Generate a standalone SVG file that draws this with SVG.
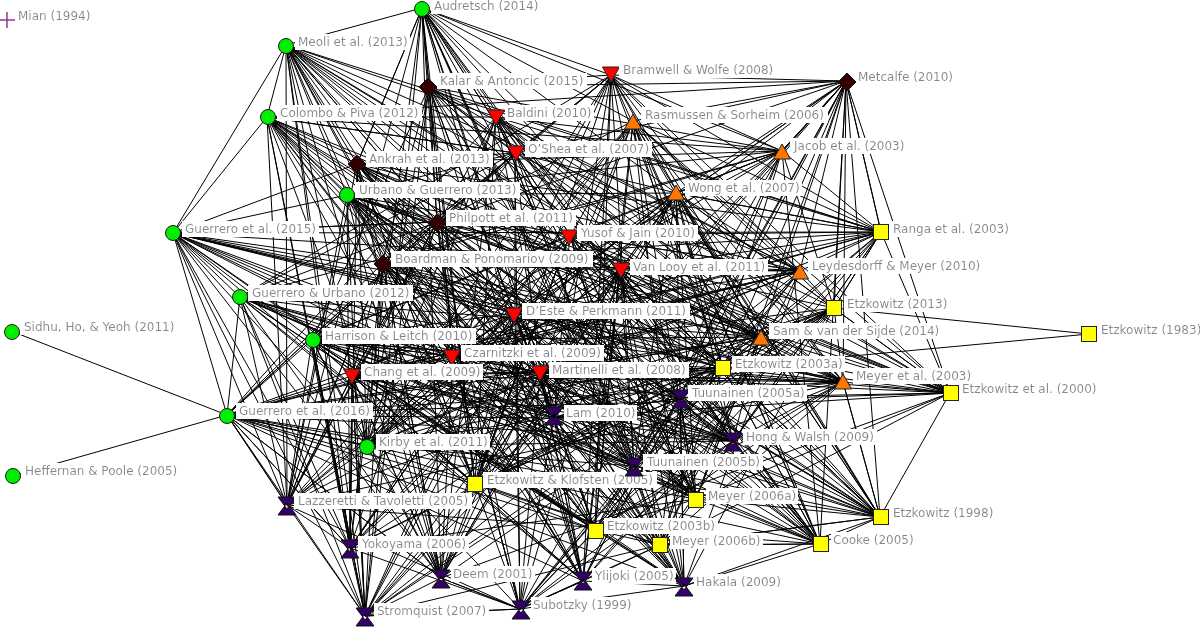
<svg xmlns="http://www.w3.org/2000/svg" width="1200" height="628" viewBox="0 0 1200 628">
<style>
.e{fill:none;stroke:#000;stroke-width:1;stroke-linejoin:round}
.l{font-family:"DejaVu Sans","Liberation Sans",sans-serif;font-size:12px;fill:#868686;filter:url(#lb)}
</style>
<defs>
<filter id="lb" x="-0.02" y="-0.04" width="1.04" height="1.08"><feFlood flood-color="#fff" result="bg"/><feMerge><feMergeNode in="bg"/><feMergeNode in="SourceGraphic"/></feMerge></filter>
<circle id="sc" r="7.5" fill="#00ee00" stroke="#1a1a1a" stroke-width="1"/>
<path id="sd" d="M0 -9L9 0 0 9 -9 0Z" fill="#330000" stroke="#111" stroke-width="1"/>
<path id="sr" d="M-8.5 -7H8.5L0 8Z" fill="#ff0000" stroke="#222" stroke-width="1"/>
<path id="so" d="M0 -8L8.5 7H-8.5Z" fill="#ff7700" stroke="#222" stroke-width="1"/>
<rect id="sy" x="-7.5" y="-7.5" width="15" height="15" fill="#ffff00" stroke="#222" stroke-width="1"/>
<path id="sp" d="M-9 -9H9L0 3Z M-9 9H9L0 -3Z" fill="#330066" stroke="#111" stroke-width="1"/>
</defs>
<rect width="1200" height="628" fill="#fff"/>
<g id="connectors">
<path class="e" d="M422 8 880 517 357 164 684 586 173 233 800 271 515 313 365 616 846 81 475 484 267 117 760 337 496 117 733 441 227 415 881 232 352 376 583 581 429 87 782 151 312 340 820 544 570 235 287 505 286 45 843 382 383 263 595 530 611 75 554 418 240 297 950 393 540 373 441 578 633 121 367 446 834 308 437 222 680 398 515 153 347 195 696 499 676 193 350 548 620 270 723 368 520 609 453 356 660 545 634 466 422 8"/>
<path class="e" d="M422 8 684 586 515 313 475 484 496 117 881 232 429 87 820 544 286 45 595 530 240 297 441 578 834 308 515 153 676 193 723 368 660 545 880 517 173 233 365 616 267 117 733 441 352 376 782 151 570 235 843 382 611 75 950 393 633 121 437 222 347 195 350 548 520 609 634 466 357 164 800 271 846 81 760 337 227 415 583 581 312 340 287 505 383 263 554 418 540 373 367 446 680 398 696 499 620 270 453 356 422 8"/>
<path class="e" d="M422 8 365 616 227 415 820 544 611 75 367 446 676 193 634 466 515 313 733 441 312 340 595 530 633 121 696 499 660 545 800 271 496 117 782 151 383 263 441 578 347 195 453 356 173 233 760 337 429 87 843 382 540 373 515 153 520 609 684 586 267 117 583 581 286 45 950 393 680 398 723 368 357 164 475 484 352 376 287 505 240 297 437 222 620 270 880 517 846 81 881 232 570 235 554 418 834 308 350 548 422 8"/>
<path class="e" d="M422 8 475 484 429 87 595 530 834 308 723 368 173 233 733 441 570 235 950 393 347 195 634 466 846 81 583 581 383 263 367 446 620 270 684 586 496 117 820 544 240 297 515 153 660 545 365 616 352 376 843 382 633 121 350 548 357 164 760 337 312 340 554 418 680 398 453 356 515 313 881 232 286 45 441 578 676 193 880 517 267 117 782 151 611 75 437 222 520 609 800 271 227 415 287 505 540 373 696 499 422 8"/>
<path class="e" d="M422 8 760 337 570 235 441 578 620 270 800 271 352 376 595 530 680 398 634 466 267 117 820 544 540 373 350 548 173 233 881 232 383 263 437 222 660 545 475 484 312 340 950 393 676 193 684 586 227 415 843 382 834 308 453 356 846 81 782 151 240 297 696 499 357 164 733 441 286 45 367 446 520 609 365 616 429 87 554 418 347 195 880 517 496 117 287 505 633 121 723 368 515 313 583 581 611 75 515 153 422 8"/>
<path class="e" d="M422 8 733 441 383 263 515 153 357 164 881 232 611 75 696 499 173 233 583 581 240 297 350 548 515 313 782 151 540 373 723 368 846 81 820 544 633 121 453 356 267 117 287 505 834 308 634 466 496 117 843 382 680 398 880 517 227 415 595 530 347 195 684 586 352 376 554 418 676 193 800 271 429 87 950 393 620 270 365 616 312 340 441 578 520 609 475 484 570 235 367 446 660 545 760 337 286 45 437 222 422 8"/>
<path class="e" d="M422 8 583 581 633 121 880 517 429 87 367 446 357 164 782 151 834 308 684 586 312 340 437 222 173 233 820 544 680 398 800 271 570 235 515 153 515 313 287 505 347 195 365 616 286 45 696 499 846 81 843 382 676 193 475 484 383 263 350 548 267 117 595 530 620 270 760 337 611 75 723 368 496 117 554 418 520 609 733 441 240 297 453 356 227 415 950 393 660 545 881 232 540 373 634 466 352 376 441 578 422 8"/>
<path class="e" d="M422 8 782 151 680 398 365 616 383 263 723 368 227 415 441 578 357 164 820 544 347 195 475 484 611 75 453 356 352 376 367 446 173 233 287 505 676 193 760 337 240 297 634 466 429 87 437 222 515 313 843 382 620 270 733 441 540 373 880 517 312 340 515 153 846 81 595 530 520 609 881 232 633 121 684 586 570 235 696 499 267 117 554 418 660 545 583 581 834 308 800 271 286 45 350 548 496 117 950 393 422 8"/>
<path class="e" d="M422 8 820 544 676 193 733 441 633 121 800 271 383 263 453 356 429 87 515 153 267 117 950 393 357 164 287 505 620 270 881 232 834 308 365 616 611 75 634 466 312 340 696 499 496 117 441 578 173 233 843 382 520 609 583 581 680 398 475 484 240 297 880 517 570 235 350 548 227 415 367 446 515 313 595 530 660 545 782 151 347 195 760 337 540 373 684 586 286 45 723 368 352 376 437 222 846 81 554 418 422 8"/>
<path class="e" d="M422 8 287 505 520 609 782 151 676 193 881 232 680 398 760 337 633 121 365 616 240 297 684 586 383 263 634 466 570 235 723 368 429 87 696 499 227 415 437 222 267 117 441 578 515 313 554 418 357 164 843 382 660 545 820 544 620 270 583 581 347 195 733 441 834 308 475 484 540 373 800 271 611 75 880 517 286 45 453 356 312 340 350 548 352 376 515 153 496 117 367 446 846 81 950 393 173 233 595 530 422 8"/>
<path class="e" d="M422 8 357 164 173 233 515 313 846 81 267 117 496 117 227 415 352 376 429 87 312 340 570 235 286 45 383 263 611 75 240 297 540 373 633 121 834 308 680 398 347 195 676 193 620 270 520 609 660 545 422 8"/>
<path class="e" d="M880 517 684 586 800 271 365 616 475 484 760 337 733 441 881 232 583 581 782 151 820 544 287 505 843 382 595 530 554 418 950 393 441 578 367 446 437 222 515 153 696 499 350 548 723 368 453 356 634 466 880 517"/>
<path class="e" d="M515 313 312 340 367 446 723 368 357 164 475 484 570 235 437 222 453 356 676 193 760 337 383 263 680 398 634 466 843 382 733 441 554 418 696 499 595 530 800 271 352 376 540 373 620 270 347 195 515 313"/>
<path class="e" d="M515 313 383 263 620 270 676 193 352 376 437 222 595 530 475 484 554 418 723 368 843 382 312 340 680 398 347 195 760 337 540 373 453 356 800 271 570 235 696 499 357 164 733 441 367 446 634 466 515 313"/>
<path class="e" d="M515 313 437 222 843 382 540 373 357 164 383 263 595 530 312 340 453 356 733 441 620 270 475 484 680 398 800 271 367 446 676 193 554 418 347 195 570 235 634 466 352 376 723 368 760 337 696 499 515 313"/>
<path class="e" d="M365 616 312 340 350 548 352 376 441 578 453 356 520 609 540 373 583 581 554 418 684 586 680 398 660 545 515 313 595 530 733 441 820 544 723 368 880 517 760 337 696 499 383 263 287 505 437 222 475 484 570 235 367 446 620 270 634 466 347 195"/>
<path class="e" d="M287 505 352 376 365 616 554 418 350 548 515 313 520 609 453 356 684 586 540 373 583 581 383 263 441 578 620 270 660 545 312 340 595 530 723 368 820 544 680 398 880 517 843 382"/>
<path class="e" d="M422 8L286 45M286 45L267 117M286 45L173 233M267 117L173 233M173 233L240 297M173 233L227 415M240 297L227 415M227 415L287 505M227 415L11 331M227 415L12 476M287 505L365 616M287 505L350 548M350 548L365 616M365 616L520 609M365 616L441 578M441 578L520 609M520 609L583 581M583 581L684 586M684 586L820 544M820 544L880 517M880 517L950 393M950 393L881 232M881 232L846 81M846 81L611 75M846 81L429 87M422 8L429 87M422 8L611 75M611 75L429 87M846 81L782 151M782 151L881 232M1089 334L834 308M1089 334L723 368M267 117L357 164M227 415L367 446M173 233L312 340M227 415L312 340M227 415L383 263M227 415L437 222M227 415L515 313M227 415L540 373M227 415L554 418M227 415L475 484M227 415L441 578M227 415L350 548M173 233L437 222M173 233L383 263M173 233L347 195M173 233L515 313M286 45L357 164M286 45L347 195M286 45L496 117M286 45L437 222M267 117L347 195M267 117L515 153M422 8L357 164M422 8L496 117M422 8L515 153M422 8L633 121M880 517L760 337M880 517L843 382M880 517L696 499M880 517L660 545M880 517L733 441M820 544L696 499M820 544L733 441M820 544L660 545M950 393L843 382M950 393L760 337M950 393L696 499M881 232L800 271M881 232L834 308M881 232L760 337M881 232L676 193M846 81L633 121M846 81L676 193M846 81L834 308"/>
</g>
<g id="nodes">
<g id="n-mian"><path d="M0 20H15M7 12V28" stroke="#993399" stroke-width="1.5" fill="none"/><text class="l" x="18" y="20">Mian (1994)</text></g>
<g id="n-audretsch"><use href="#sc" x="422" y="9"/><text class="l" x="434" y="10">Audretsch (2014)</text></g>
<g id="n-meoli"><use href="#sc" x="286" y="46"/><text class="l" x="298" y="46">Meoli et al. (2013)</text></g>
<g id="n-colombo"><use href="#sc" x="268" y="117"/><text class="l" x="280" y="117">Colombo &amp; Piva (2012)</text></g>
<g id="n-urbano"><use href="#sc" x="347" y="195"/><text class="l" x="359" y="194">Urbano &amp; Guerrero (2013)</text></g>
<g id="n-guerrero2015"><use href="#sc" x="173" y="233"/><text class="l" x="185" y="233">Guerrero et al. (2015)</text></g>
<g id="n-guerrero-urbano"><use href="#sc" x="240" y="297"/><text class="l" x="252" y="297">Guerrero &amp; Urbano (2012)</text></g>
<g id="n-harrison"><use href="#sc" x="313" y="340"/><text class="l" x="325" y="340">Harrison &amp; Leitch (2010)</text></g>
<g id="n-sidhu"><use href="#sc" x="12" y="332"/><text class="l" x="24" y="331">Sidhu, Ho, &amp; Yeoh (2011)</text></g>
<g id="n-guerrero2016"><use href="#sc" x="227" y="416"/><text class="l" x="239" y="415">Guerrero et al. (2016)</text></g>
<g id="n-kirby"><use href="#sc" x="367" y="447"/><text class="l" x="379" y="446">Kirby et al. (2011)</text></g>
<g id="n-heffernan"><use href="#sc" x="13" y="476"/><text class="l" x="25" y="475">Heffernan &amp; Poole (2005)</text></g>
<g id="n-kalar"><use href="#sd" x="428" y="87"/><text class="l" x="440" y="85">Kalar &amp; Antoncic (2015)</text></g>
<g id="n-ankrah"><use href="#sd" x="357" y="164"/><text class="l" x="369" y="163">Ankrah et al. (2013)</text></g>
<g id="n-philpott"><use href="#sd" x="437" y="223"/><text class="l" x="449" y="222">Philpott et al. (2011)</text></g>
<g id="n-boardman"><use href="#sd" x="383" y="264"/><text class="l" x="395" y="263">Boardman &amp; Ponomariov (2009)</text></g>
<g id="n-metcalfe"><use href="#sd" x="847" y="82"/><text class="l" x="858" y="81">Metcalfe (2010)</text></g>
<g id="n-bramwell"><use href="#sr" x="611" y="74"/><text class="l" x="623" y="74">Bramwell &amp; Wolfe (2008)</text></g>
<g id="n-baldini"><use href="#sr" x="496" y="117"/><text class="l" x="507" y="117">Baldini (2010)</text></g>
<g id="n-oshea"><use href="#sr" x="516" y="153"/><text class="l" x="528" y="153">O’Shea et al. (2007)</text></g>
<g id="n-yusof"><use href="#sr" x="569" y="237"/><text class="l" x="581" y="237">Yusof &amp; Jain (2010)</text></g>
<g id="n-vanlooy"><use href="#sr" x="621" y="270"/><text class="l" x="633" y="271">Van Looy et al. (2011)</text></g>
<g id="n-deste"><use href="#sr" x="514" y="315"/><text class="l" x="526" y="315">D’Este &amp; Perkmann (2011)</text></g>
<g id="n-czarnitzki"><use href="#sr" x="452" y="357"/><text class="l" x="464" y="357">Czarnitzki et al. (2009)</text></g>
<g id="n-chang"><use href="#sr" x="352" y="376"/><text class="l" x="364" y="376">Chang et al. (2009)</text></g>
<g id="n-martinelli"><use href="#sr" x="540" y="373"/><text class="l" x="552" y="374">Martinelli et al. (2008)</text></g>
<g id="n-rasmussen"><use href="#so" x="633" y="122"/><text class="l" x="645" y="119">Rasmussen &amp; Sorheim (2006)</text></g>
<g id="n-jacob"><use href="#so" x="782" y="152"/><text class="l" x="794" y="150">Jacob et al. (2003)</text></g>
<g id="n-wong"><use href="#so" x="676" y="193"/><text class="l" x="688" y="192">Wong et al. (2007)</text></g>
<g id="n-leydesdorff"><use href="#so" x="800" y="272"/><text class="l" x="812" y="270">Leydesdorff &amp; Meyer (2010)</text></g>
<g id="n-sam"><use href="#so" x="761" y="338"/><text class="l" x="773" y="335">Sam &amp; van der Sijde (2014)</text></g>
<g id="n-meyer2003"><use href="#so" x="843" y="382"/><text class="l" x="856" y="380">Meyer et al. (2003)</text></g>
<g id="n-ranga"><use href="#sy" x="881" y="232"/><text class="l" x="893" y="233">Ranga et al. (2003)</text></g>
<g id="n-etz2013"><use href="#sy" x="834" y="308"/><text class="l" x="847" y="308">Etzkowitz (2013)</text></g>
<g id="n-etz1983"><use href="#sy" x="1089" y="334"/><text class="l" x="1101" y="334">Etzkowitz (1983)</text></g>
<g id="n-etz2003a"><use href="#sy" x="723" y="368"/><text class="l" x="735" y="368">Etzkowitz (2003a)</text></g>
<g id="n-etz2000"><use href="#sy" x="951" y="393"/><text class="l" x="962" y="393">Etzkowitz et al. (2000)</text></g>
<g id="n-etzklof"><use href="#sy" x="475" y="484"/><text class="l" x="487" y="484">Etzkowitz &amp; Klofsten (2005)</text></g>
<g id="n-meyer2006a"><use href="#sy" x="696" y="500"/><text class="l" x="708" y="500">Meyer (2006a)</text></g>
<g id="n-etz1998"><use href="#sy" x="881" y="517"/><text class="l" x="893" y="517">Etzkowitz (1998)</text></g>
<g id="n-etz2003b"><use href="#sy" x="596" y="531"/><text class="l" x="607" y="530">Etzkowitz (2003b)</text></g>
<g id="n-meyer2006b"><use href="#sy" x="660" y="545"/><text class="l" x="672" y="545">Meyer (2006b)</text></g>
<g id="n-cooke"><use href="#sy" x="821" y="544"/><text class="l" x="833" y="544">Cooke (2005)</text></g>
<g id="n-tuunainen2005a"><use href="#sp" x="681" y="399"/><text class="l" x="692" y="397">Tuunainen (2005a)</text></g>
<g id="n-lam"><use href="#sp" x="554" y="416"/><text class="l" x="566" y="417">Lam (2010)</text></g>
<g id="n-hong"><use href="#sp" x="733" y="442"/><text class="l" x="746" y="441">Hong &amp; Walsh (2009)</text></g>
<g id="n-tuunainen2005b"><use href="#sp" x="634" y="467"/><text class="l" x="647" y="466">Tuunainen (2005b)</text></g>
<g id="n-lazzeretti"><use href="#sp" x="287" y="506"/><text class="l" x="298" y="505">Lazzeretti &amp; Tavoletti (2005)</text></g>
<g id="n-yokoyama"><use href="#sp" x="350" y="549"/><text class="l" x="362" y="548">Yokoyama (2006)</text></g>
<g id="n-deem"><use href="#sp" x="441" y="579"/><text class="l" x="453" y="578">Deem (2001)</text></g>
<g id="n-ylijoki"><use href="#sp" x="583" y="581"/><text class="l" x="595" y="580">Ylijoki (2005)</text></g>
<g id="n-hakala"><use href="#sp" x="684" y="587"/><text class="l" x="696" y="586">Hakala (2009)</text></g>
<g id="n-subotzky"><use href="#sp" x="521" y="610"/><text class="l" x="533" y="609">Subotzky (1999)</text></g>
<g id="n-stromquist"><use href="#sp" x="365" y="617"/><text class="l" x="377" y="615">Stromquist (2007)</text></g>
</g>
</svg>
